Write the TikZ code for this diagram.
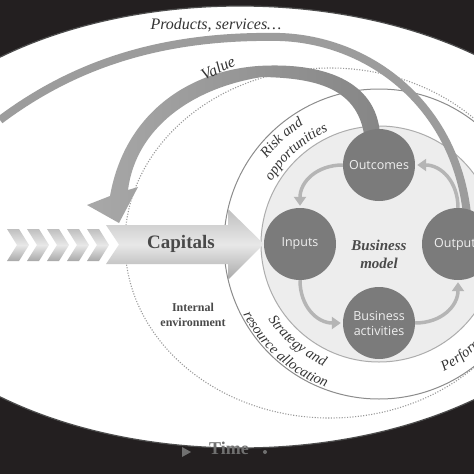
\documentclass[tikz,border=0pt]{standalone}
\usepackage{fontspec}
\setmainfont{Liberation Serif}
\newfontfamily\sansfont{Open Sans}
\usepackage{xcolor}
\usetikzlibrary{arrows.meta, positioning, decorations.text}
\definecolor{sfondo}{HTML}{231F20}
\definecolor{grigiocerchio}{HTML}{7B7B7B}
\definecolor{grigiodisco}{HTML}{EDEDED}
\definecolor{grigiobanda}{HTML}{9C9C9C}
\definecolor{grigiofreccia}{HTML}{B5B5B5}
\definecolor{testo}{HTML}{333333}
\definecolor{testoscuro}{HTML}{4A4A4A}
\definecolor{grigiotempo}{HTML}{707070}
\newcommand{\testoanello}{\itshape\fontsize{14.5}{16}\selectfont}
\pgfdeclarelayer{fondo}
\pgfdeclarelayer{bande}
\pgfsetlayers{fondo,bande,main}
\tikzstyle{cerchio} = [circle, minimum size=72pt, inner sep=0pt, fill=grigiocerchio, text=white!88!gray, font=\sansfont\fontsize{12.5}{15}\selectfont, align=center]
\tikzstyle{freccina} = [line width=3.5pt, grigiofreccia, -{Triangle[width=12pt,length=9pt]}, shorten >=2pt]
\tikzstyle{freccione} = [top color=gray!50, bottom color=gray!68, middle color=gray!18]
\tikzstyle{bandaprodotti} = [line width=8pt, grigiobanda]
\tikzstyle{valore} = [left color=gray!68, right color=gray!95]
\tikzstyle{anellotesto} = [decorate, decoration={text along path, text align=center, text color=testo}]

\begin{document}
\begin{tikzpicture}[x=1pt, y=-1pt, node distance=79pt]
    \useasboundingbox (0,0) rectangle (474,474);
    \clip (0,0) rectangle (474,474);

    % Sfondo ed ellisse
    \begin{pgfonlayer}{fondo}
    \clip (0,0) rectangle (474,474);
    \fill[sfondo] (0,0) rectangle (474,474);
    \filldraw[fill=white, draw=gray!60!black, line width=1.2pt] (240,227) ellipse [x radius=375, y radius=221];
    \draw[gray!80, line width=1.1pt, dash pattern=on 1.1pt off 1.6pt] (330,243) ellipse [x radius=205, y radius=175];
    \coordinate (centro) at (379,244);
    \draw[gray!90, line width=1pt] (centro) circle [radius=155];
    \filldraw[fill=grigiodisco, draw=gray!65, line width=1pt] (centro) circle [radius=118];
    \end{pgfonlayer}

    % Cerchi del modello
    \coordinate (centro) at (379,244);
    \node (outcomes) [cerchio, above of=centro] {Outcomes};
    \node (inputs) [cerchio, left of=centro] {Inputs};
    \node (outputs) [cerchio, right of=centro] {Outputs};
    \node (activities) [cerchio, below of=centro] {Business\\activities};
    \node (model) at (379,254) [font=\bfseries\itshape\fontsize{15}{18}\selectfont, text=testoscuro, align=center] {Business\\model};

    % Frecce interne
    \draw[freccina] (outcomes.west) .. controls +(-26,0) and +(0,-26) .. (inputs.north);
    \draw[freccina] (inputs.south) .. controls +(0,26) and +(-26,0) .. (activities.west);
    \draw[freccina] (activities.east) .. controls +(26,0) and +(0,26) .. (outputs.south);
    \draw[freccina] (outputs.north) .. controls +(0,-26) and +(26,0) .. (outcomes.east);

    % Bande: prodotti e valore
    \begin{pgfonlayer}{bande}
    \clip (0,0) rectangle (474,474);
    \draw[bandaprodotti] (0,120) .. controls (80,60) and (170,35) .. (280,37) .. controls (370,40) and (455,105) .. ([xshift=9pt,yshift=-6pt]outputs.north);
    \shade[valore] ([xshift=1pt,yshift=-5pt]outcomes.north) .. controls (376,80) and (322,62) .. (258,66) .. controls (190,71) and (125,112) .. (110,196) -- (87,205) -- (119,223) -- (138,187) -- (128,190) .. controls (136,128) and (192,88) .. (262,77) .. controls (316,78) and (356,88) .. ([xshift=-15pt,yshift=-5pt]outcomes.north) -- cycle;
    \end{pgfonlayer}

    % Capitali
    \foreach \i in {0,...,4} {
        \shade[freccione] ({7+20*\i},229) -- ++(12,0) -- ++(10,16) -- ++(-10,16) -- ++(-12,0) -- ++(10,-16) -- cycle;
    }
    \shade[freccione] (106,225) -- (228,225) -- (228,209) -- (inputs.west) -- (228,280) -- (228,264) -- (106,264) -- (119,244.5) -- cycle;
    \node (capitali) at (181,244) [font=\bfseries\fontsize{19}{20}\selectfont, text=testoscuro] {Capitals};

    % Scritte
    \node (prodotti) at (216,25) [font=\itshape\fontsize{16}{18}\selectfont, text=testo] {Products, services\ldots};
    \node (valore) at (218,68) [rotate=25, font=\itshape\fontsize{16}{18}\selectfont, text=testo] {Value};
    \node (interno) at (193,315) [font=\bfseries\fontsize{12}{15}\selectfont, text=testoscuro, align=center] {Internal\\environment};
    \path[anellotesto, decoration={text={|\testoanello|Risk and}}] (centro) ++(200:141) arc[start angle=200, end angle=255, radius=141];
    \path[anellotesto, decoration={text={|\testoanello|opportunities}}] (centro) ++(198:124) arc[start angle=198, end angle=258, radius=124];
    \path[anellotesto, decoration={text={|\testoanello|Strategy and}}] (centro) ++(160:134) arc[start angle=160, end angle=100, radius=134];
    \path[anellotesto, decoration={text={|\testoanello|resource allocation}}] (centro) ++(166:153) arc[start angle=166, end angle=97, radius=153];
    \path[decorate, decoration={text along path, text align=left, text color=testo, text={|\testoanello|Performance}}] (centro) ++(63:143) arc[start angle=63, end angle=-10, radius=143];

    % Tempo
    \node (tempo) at (229,448) [font=\bfseries\fontsize{18}{20}\selectfont, text=grigiotempo] {Time};
    \fill[grigiotempo] (182,447) -- (191,452) -- (182,457) -- cycle;
    \fill[grigiotempo] (265,452) circle [radius=2];
\end{tikzpicture}
\end{document}
